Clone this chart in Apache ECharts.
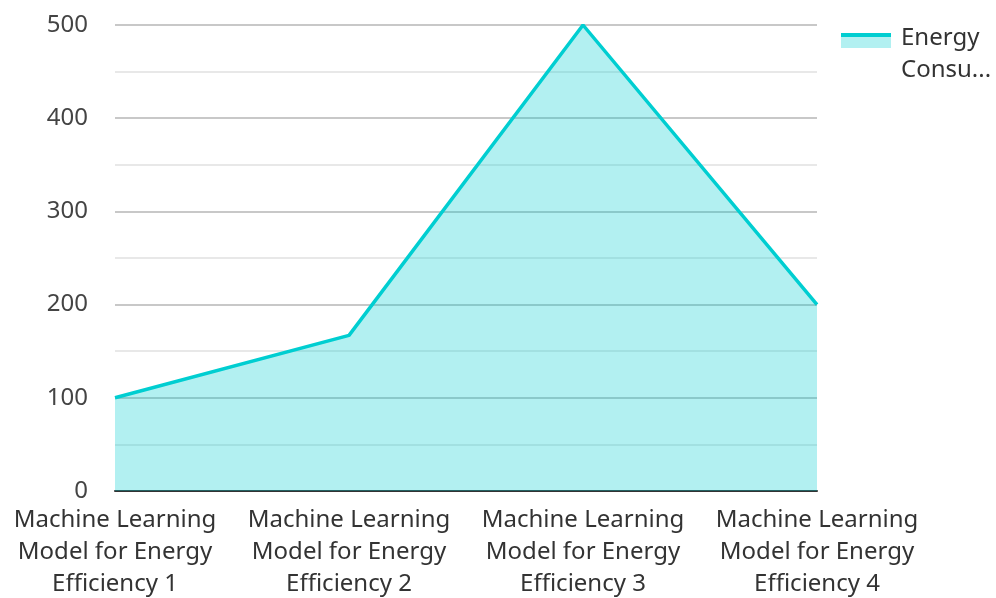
<!DOCTYPE html>
<html>
<head>
<meta charset="utf-8">
<script src="https://cdn.jsdelivr.net/npm/echarts@6/dist/echarts.min.js"></script>
<style>
  html, body { margin: 0; padding: 0; background: #fff; }
  #chart { width: 996px; height: 598px; }
</style>
</head>
<body>
<div id="chart"></div>
<script>
// Energy consumption per ML model
const categories = [
  'Machine Learning Model for Energy Efficiency 1',
  'Machine Learning Model for Energy Efficiency 2',
  'Machine Learning Model for Energy Efficiency 3',
  'Machine Learning Model for Energy Efficiency 4'
];
const seriesName = 'Energy Consumption';
const energyValues = [100, 167, 500, 200];

const lineColor = '#00ced1';
const chart = echarts.init(document.getElementById('chart'));
const font = '"Noto Sans", "Open Sans", sans-serif';

// legend swatch: solid stroke on top, translucent fill below, aligned to the first text line
const swatch = new echarts.graphic.LinearGradient(0, 0, 0, 1, [
  { offset: 0, color: lineColor },
  { offset: 0.095, color: lineColor },
  { offset: 0.095, color: '#b2f0f1' },
  { offset: 0.36, color: '#b2f0f1' },
  { offset: 0.36, color: 'rgba(255,255,255,0)' },
  { offset: 1, color: 'rgba(255,255,255,0)' }
]);

chart.setOption({
  animation: false,
  textStyle: { fontFamily: font },
  legend: {
    right: -10,
    top: 17,
    orient: 'vertical',
    icon: 'rect',
    itemWidth: 50,
    itemHeight: 42,
    itemGap: 10,
    itemStyle: { color: swatch },
    lineStyle: { opacity: 0 },
    textStyle: {
      fontFamily: font,
      fontSize: 24,
      color: '#333',
      width: 100,
      overflow: 'truncate',
      lineHeight: 32,
      padding: [0, 0, 0, 5]
    },
    formatter: () => 'Energy\nConsumption'
  },
  grid: { left: 115, right: 179, top: 25, bottom: 107, outerBoundsMode: 'none' },
  xAxis: {
    type: 'category',
    data: categories,
    boundaryGap: false,
    axisLine: { lineStyle: { color: '#333', width: 2 } },
    axisTick: { show: false },
    axisLabel: {
      interval: 0,
      fontFamily: font,
      fontSize: 24,
      color: '#333',
      lineHeight: 32,
      margin: 13,
      formatter: v => v.replace('Learning ', 'Learning\n').replace('Energy ', 'Energy\n')
    }
  },
  yAxis: {
    type: 'value',
    min: 0,
    max: 500,
    interval: 100,
    axisLine: { show: false },
    axisTick: { show: false },
    axisLabel: { fontFamily: font, fontSize: 24, color: '#444', margin: 27 },
    splitLine: { lineStyle: { color: '#c8c8c8', width: 2 } },
    minorTick: { show: false, splitNumber: 2 },
    minorSplitLine: { show: true, lineStyle: { color: '#e8e8e8', width: 2 } }
  },
  series: [{
    name: seriesName,
    type: 'line',
    data: energyValues,
    showSymbol: false,
    symbol: 'none',
    lineStyle: { color: lineColor, width: 3.5 },
    itemStyle: { color: lineColor },
    areaStyle: { color: lineColor, opacity: 0.3 }
  }]
});
</script>
</body>
</html>
